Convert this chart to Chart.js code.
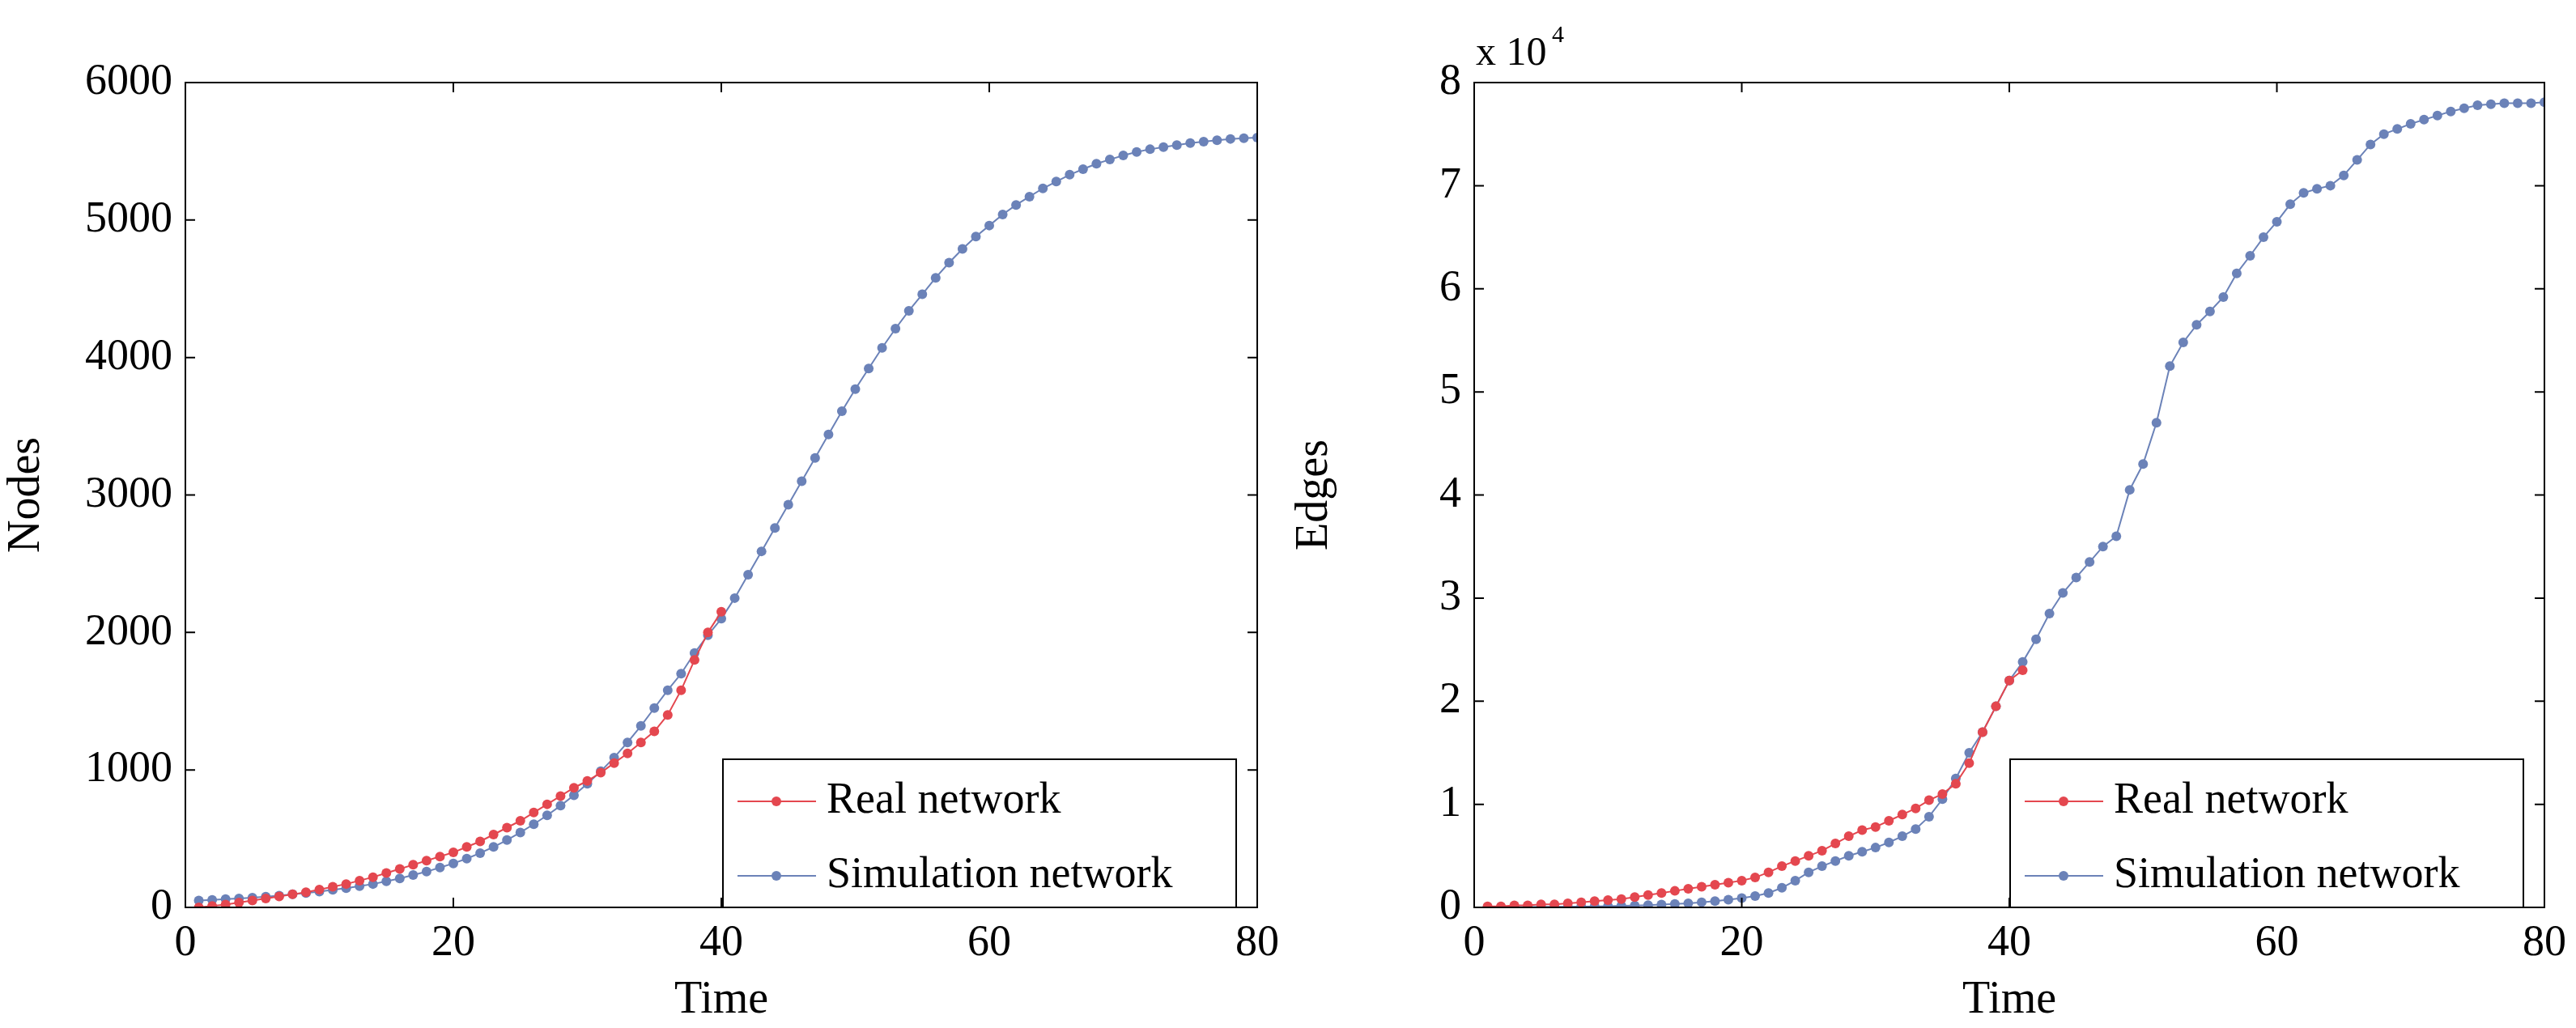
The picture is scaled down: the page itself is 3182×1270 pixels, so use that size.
<!DOCTYPE html>
<html><head><meta charset="utf-8">
<script src="https://cdn.jsdelivr.net/npm/chart.js@4/dist/chart.umd.min.js"></script>
<style>html,body{margin:0;padding:0;background:#fff;width:3182px;height:1270px;overflow:hidden}
.c{position:absolute;top:0;width:1591px;height:1270px}</style></head><body>
<div class="c" style="left:0"><canvas id="a"></canvas></div>
<div class="c" style="left:1591px"><canvas id="b"></canvas></div>
<script>
const time = Array.from({length:80},(_, i)=>i+1);
const nodesSim = [50,55,60,65,70,78,86,95,105,115,128,140,155,170,190,210,235,260,290,320,355,395,440,490,545,605,670,740,815,900,990,1090,1200,1320,1450,1580,1700,1850,1980,2100,2250,2420,2590,2760,2930,3100,3270,3440,3610,3770,3920,4070,4210,4340,4460,4580,4690,4790,4880,4960,5040,5110,5170,5230,5280,5330,5370,5410,5440,5470,5495,5515,5530,5545,5560,5570,5580,5590,5595,5600];
const nodesReal = [0,10,20,35,50,65,80,95,110,130,150,170,195,220,250,280,310,340,370,400,440,480,530,580,630,690,750,810,870,920,980,1050,1120,1200,1280,1400,1580,1800,2000,2150];
const edgesSim = [200,200,300,300,400,500,600,800,1000,1200,1500,1800,2200,2700,3300,4000,5000,6000,7500,9000,11000,14000,19000,26000,34000,40000,45000,50000,54000,58000,63000,69000,76000,88000,105000,125000,150000,170000,195000,220000,238000,260000,285000,305000,320000,335000,350000,360000,405000,430000,470000,525000,548000,565000,578000,592000,615000,632000,650000,665000,682000,693000,697000,700000,710000,725000,740000,750000,755000,760000,764000,768000,772000,775000,778000,779000,780000,780000,780000,781000].map(v=>v/10);
const edgesReal = [1000,1000,2000,2000,3000,3000,4000,5000,6000,7000,8000,10000,12000,14000,16000,18000,20000,22000,24000,26000,29000,34000,40000,45000,50000,55000,62000,69000,75000,78000,84000,90000,96000,104000,110000,120000,140000,170000,195000,220000,230000].map(v=>v/10);
const xTicks = [0,20,40,60,80];
const seriesLabels = ['Real network','Simulation network'];
const RED='#e4474f', BLUE='#6b82b8';
const F='"Liberation Serif", "Times New Roman", serif';

function pts(arr){return arr.map((v,i)=>({x:time[i],y:v}));}
const frame={id:'frame',afterDraw(c){
  const {ctx,chartArea:a,scales}=c;ctx.save();ctx.strokeStyle='#000';ctx.lineWidth=2;
  ctx.strokeRect(a.left,a.top,a.right-a.left,a.bottom-a.top);
  const L=12;
  scales.x.ticks.forEach(t=>{const p=scales.x.getPixelForValue(t.value);ctx.beginPath();ctx.moveTo(p,a.bottom);ctx.lineTo(p,a.bottom-L);ctx.moveTo(p,a.top);ctx.lineTo(p,a.top+L);ctx.stroke();});
  scales.y.ticks.forEach(t=>{const p=scales.y.getPixelForValue(t.value);ctx.beginPath();ctx.moveTo(a.left,p);ctx.lineTo(a.left+L,p);ctx.moveTo(a.right,p);ctx.lineTo(a.right-L,p);ctx.stroke();});
  const bx=a.right-660,by=a.bottom-183,bw=634,bh=183;
  ctx.fillStyle='#fff';ctx.fillRect(bx,by,bw,bh);ctx.strokeRect(bx,by,bw,bh);
  ctx.font='54px '+F;ctx.textBaseline='middle';
  c.data.datasets.forEach((d,i)=>{const y=by+52+i*92;ctx.strokeStyle=d.borderColor;ctx.lineWidth=2;
    ctx.beginPath();ctx.moveTo(bx+18,y);ctx.lineTo(bx+115,y);ctx.stroke();
    ctx.fillStyle=d.borderColor;ctx.beginPath();ctx.arc(bx+66,y,6,0,7);ctx.fill();
    ctx.fillStyle='#000';ctx.fillText(d.label,bx+128,y);});
  if(c.options.expLabel){ctx.fillStyle='#000';ctx.font='50px '+F;ctx.textBaseline='alphabetic';ctx.fillText('x 10',a.left+2,a.top-22);ctx.font='30px '+F;ctx.fillText('4',a.left+96,a.top-50);}
  ctx.restore();}};

function make(id,real,sim,ymax,ystep,ytitle,exp,padL){
 new Chart(document.getElementById(id),{type:'line',
  data:{datasets:[
   {label:seriesLabels[0],data:pts(real),borderColor:RED,backgroundColor:RED,borderWidth:2,pointRadius:6,pointBorderWidth:0},
   {label:seriesLabels[1],data:pts(sim),borderColor:BLUE,backgroundColor:BLUE,borderWidth:2,pointRadius:6,pointBorderWidth:0}]},
  options:{responsive:true,maintainAspectRatio:false,animation:false,expLabel:exp,
   layout:{padding:{top:102,right:padL.r,left:0,bottom:0}},
   plugins:{legend:{display:false},tooltip:{enabled:false}},
   scales:{
    x:{type:'linear',min:0,max:80,afterBuildTicks:s=>{s.ticks=xTicks.map(v=>({value:v}));},
       grid:{display:false},border:{display:false},
       ticks:{font:{family:F,size:54},color:'#000',padding:4,maxRotation:0},
       title:{display:true,text:'Time',font:{family:F,size:56},color:'#000',padding:0},
       afterFit:s=>{s.height=149;}},
    y:{min:0,max:ymax,grid:{display:false},border:{display:false},
       ticks:{stepSize:ystep,font:{family:F,size:54},color:'#000',padding:8,callback:v=>exp?v/10000:v},
       title:{display:true,text:ytitle,font:{family:F,size:56},color:'#000',padding:0},
       afterFit:s=>{s.width=padL.l;}}}},
  plugins:[frame]});
}
make('a',nodesReal,nodesSim,6000,1000,'Nodes',false,{l:229,r:38});
make('b',edgesReal,edgesSim,80000,10000,'Edges',true,{l:230,r:39});
</script></body></html>
